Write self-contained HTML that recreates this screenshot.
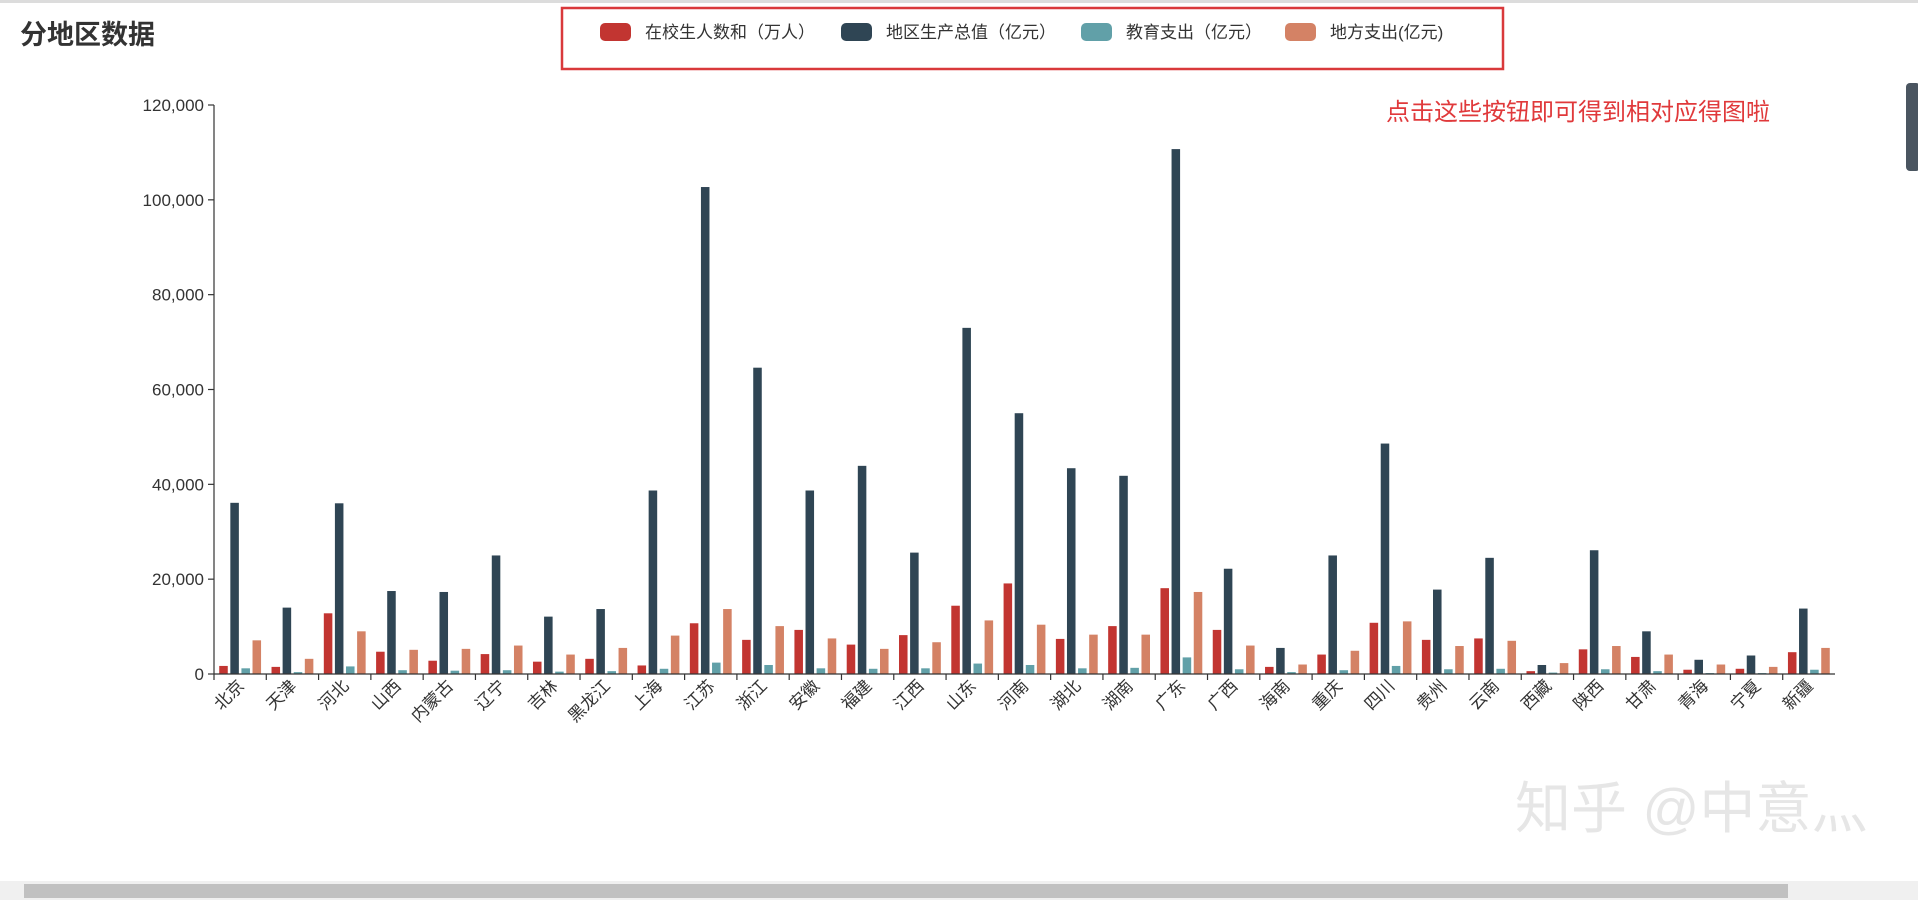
<!DOCTYPE html>
<html><head><meta charset="utf-8">
<style>
html,body{margin:0;padding:0;width:1918px;height:900px;overflow:hidden;background:#fff;font-family:"Liberation Sans","Noto Sans CJK SC",sans-serif;}
svg{position:absolute;left:0;top:0}
</style></head>
<body>
<svg id="chart" width="1918" height="900" xmlns="http://www.w3.org/2000/svg">
<rect x="0" y="0" width="1918" height="3" fill="#dcdcdc"/>
<text x="20" y="44" font-size="27" font-weight="bold" fill="#333" font-family="Liberation Sans, Noto Sans CJK SC, sans-serif">分地区数据</text>
<rect x="562" y="8" width="941" height="61" fill="none" stroke="#d9393b" stroke-width="2.5"/>
<g id="legend"></g>
<text x="1386" y="120" font-size="24" fill="#e0393b" font-family="Liberation Sans, Noto Sans CJK SC, sans-serif">点击这些按钮即可得到相对应得图啦</text>
<g id="plot"></g>
<rect x="1906" y="83" width="14" height="88" rx="4" fill="#4a5560"/>
<text x="1515" y="828" font-size="56" fill="#e6e6e6" font-family="Liberation Sans, Noto Sans CJK SC, sans-serif">知乎 @中意灬</text>
<rect x="0" y="881" width="1918" height="19" fill="#f0f0f0"/>
<rect x="24" y="884" width="1764" height="14" fill="#c1c1c1"/>
</svg>
<script>
const categories=["北京","天津","河北","山西","内蒙古","辽宁","吉林","黑龙江","上海","江苏","浙江","安徽","福建","江西","山东","河南","湖北","湖南","广东","广西","海南","重庆","四川","贵州","云南","西藏","陕西","甘肃","青海","宁夏","新疆"];
const seriesNames=["在校生人数和（万人）","地区生产总值（亿元）","教育支出（亿元）","地方支出(亿元)"];
const students=[1700,1500,12800,4700,2800,4200,2600,3200,1800,10700,7200,9300,6200,8200,14400,19100,7400,10100,18100,9300,1500,4100,10800,7200,7500,600,5200,3600,900,1100,4600];
const gdp=[36100,14000,36000,17500,17300,25000,12100,13700,38700,102700,64600,38700,43900,25600,73000,55000,43400,41800,110700,22200,5500,25000,48600,17800,24500,1900,26100,9000,3000,3900,13800];
const education=[1200,400,1600,800,700,800,500,600,1100,2400,1900,1200,1100,1200,2200,1900,1200,1300,3500,1000,400,800,1700,1000,1100,300,1000,600,200,200,900];
const localSpend=[7100,3200,9000,5100,5300,6000,4100,5500,8100,13700,10100,7500,5300,6700,11300,10400,8300,8300,17300,6000,2000,4900,11100,5900,7000,2300,5900,4100,2000,1500,5500];
const yTicks=[0,20000,40000,60000,80000,100000,120000];
const yTickLabels=["0","20,000","40,000","60,000","80,000","100,000","120,000"];
const colors=["#c23531","#2f4554","#61a0a8","#d48265"];
const series=[students,gdp,education,localSpend];
const NS="http://www.w3.org/2000/svg";
const X0=214,X1=1835,Y0=674,Y1=105,YMAX=120000;
const yScale=v=>Y0-(v/YMAX)*(Y0-Y1);
const catW=(X1-X0)/categories.length;
const bandW=catW*0.8, barW=bandW/(4+3*0.3), gap=barW*0.3;
const xBar=(i,s)=>X0+i*catW+catW*0.1+s*(barW+gap);
function mk(tag,attrs,parent){const e=document.createElementNS(NS,tag);for(const k in attrs)e.setAttribute(k,attrs[k]);parent.appendChild(e);return e;}
const plot=document.getElementById('plot');
const FONT="Liberation Sans, Noto Sans CJK SC, sans-serif";
let ax=mk('line',{x1:X0,y1:Y1,x2:X0,y2:Y0,stroke:'#333','stroke-width':1.2},plot);


yTicks.forEach((t,i)=>{
  const y=yScale(t);
  const tk=mk('line',{x1:X0-6,y1:y,x2:X0,y2:y,stroke:'#333','stroke-width':1.2},plot);
  
  
  const tx=mk('text',{x:X0-10,y:y+6,'text-anchor':'end','font-size':17,fill:'#333','font-family':FONT},plot);
  tx.textContent=yTickLabels[i];
  
  
});
series.forEach((arr,s)=>{
  arr.forEach((v,i)=>{
    const y=yScale(v);
    const r=mk('rect',{x:xBar(i,s),y:y,width:barW,height:Y0-y,fill:colors[s]},plot);
    
    
  });
});
let xa=mk('line',{x1:X0,y1:Y0,x2:X1,y2:Y0,stroke:'#333','stroke-width':1.2},plot);


categories.forEach((c,i)=>{
  const xt=X0+i*catW;
  const tk=mk('line',{x1:xt,y1:Y0,x2:xt,y2:Y0+6,stroke:'#333','stroke-width':1.2},plot);
  
  
  const cx=X0+(i+0.5)*catW;
  const tx=mk('text',{x:cx+5,y:Y0+13,'text-anchor':'end','font-size':17,fill:'#333','font-family':FONT,transform:`rotate(-45 ${cx+5} ${Y0+13})`},plot);
  tx.textContent=c;
  
  
});
const lg=document.getElementById('legend');
const iconX=[600,841,1081,1285];
seriesNames.forEach((n,s)=>{
  const r=mk('rect',{x:iconX[s],y:23,width:31,height:18,rx:5,fill:colors[s]},lg);
  
  
  const t=mk('text',{x:iconX[s]+45,y:38,'font-size':17,fill:'#333','font-family':FONT},lg);
  t.textContent=n;
  
  
});
</script>
</body></html>
